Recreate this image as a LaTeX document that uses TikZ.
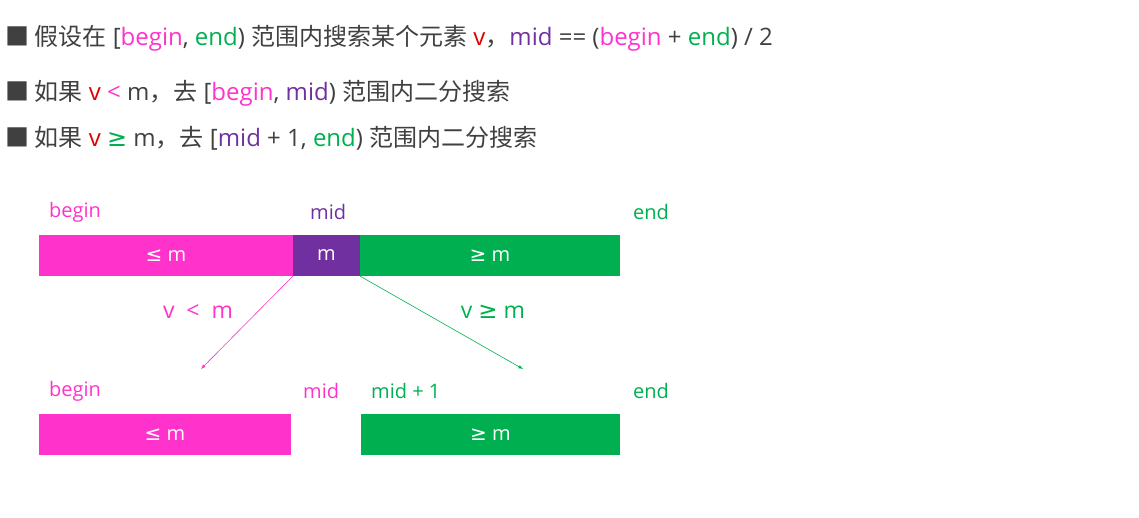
\documentclass[tikz,border=0pt]{standalone}
\usepackage{fontspec}
\setmainfont{Open Sans}
\newfontfamily\cjk{Noto Sans CJK SC}
\newfontfamily\sym{DejaVu Sans}
\newcommand{\zh}[1]{{\cjk #1}}
\newcommand{\mygeq}{{\sym ≥}}
\newcommand{\myleq}{{\sym ≤}}
\definecolor{pk}{HTML}{FF33CC}
\definecolor{pu}{HTML}{7030A0}
\definecolor{gn}{HTML}{00B050}
\definecolor{rd}{HTML}{E00000}
\definecolor{tx}{HTML}{404040}
\begin{document}
\begin{tikzpicture}[x=1pt,y=-1pt,
  line/.style={anchor=west,inner sep=0pt,text=tx,font=\fontsize{24}{28}\selectfont},
  bar/.style={draw=none,minimum height=41pt,inner sep=0pt,text=white,font=\fontsize{20}{22}\selectfont},
  lab/.style={inner sep=0pt,font=\fontsize{20}{22}\selectfont},
  arr/.style={-latex,line width=0.6pt}]
\useasboundingbox (0,0) rectangle (1139,518);
\node[line] (l1) at (5,38) {\zh{■ 假设在} [\textcolor{pk}{begin}, \textcolor{gn}{end}) \zh{范围内搜索某个元素} \textcolor{rd}{v}\zh{，}\textcolor{pu}{mid} == (\textcolor{pk}{begin} + \textcolor{gn}{end}) / 2};
\node[line] (l2) at (5,93) {\zh{■ 如果} \textcolor{rd}{v} \textcolor{pk}{<} m\zh{，去} [\textcolor{pk}{begin}, \textcolor{pu}{mid}) \zh{范围内二分搜索}};
\node[line] (l3) at (5,138) {\zh{■ 如果} \textcolor{rd}{v} \textcolor{gn}{\mygeq} m\zh{，去} [\textcolor{pu}{mid} + 1, \textcolor{gn}{end}) \zh{范围内二分搜索}};
% top bar
\node[bar,fill=pk,minimum width=254pt] (a1) at (166,255.5) {\myleq\ m};
\node[bar,fill=pu,minimum width=67pt] (a2) at (326.5,255.5) {m};
\node[bar,fill=gn,minimum width=260pt] (a3) at (490,255.5) {\mygeq\ m};
\node[lab,text=pk,anchor=west] (t1) at (49,212) {begin};
\node[lab,text=pu,anchor=west] (t2) at (310,212) {mid};
\node[lab,text=gn,anchor=west] (t3) at (633,212) {end};
% bottom
\node[bar,fill=pk,minimum width=252pt] (b1) at (165,434.5) {\myleq\ m};
\node[bar,fill=gn,minimum width=259pt] (b2) at (490.5,434.5) {\mygeq\ m};
\node[lab,text=pk,anchor=west] (u1) at (49,391) {begin};
\node[lab,text=pk,anchor=west] (u2) at (303,391) {mid};
\node[lab,text=gn,anchor=west] (u3) at (371,391) {mid + 1};
\node[lab,text=gn,anchor=west] (u4) at (633,391) {end};
\coordinate (e1) at (201,369);
\coordinate (e2) at (523,369);
\draw[arr,pk] (a2.south west) -- (e1);
\draw[arr,gn] (a2.south east) -- (e2);
\node[lab,text=pk,font=\fontsize{23}{26}\selectfont] (c1) at (198,312) {v\ \ <\ \ m};
\node[lab,text=gn,font=\fontsize{23}{26}\selectfont] (c2) at (493,312) {v \mygeq\ m};
\end{tikzpicture}
\end{document}
